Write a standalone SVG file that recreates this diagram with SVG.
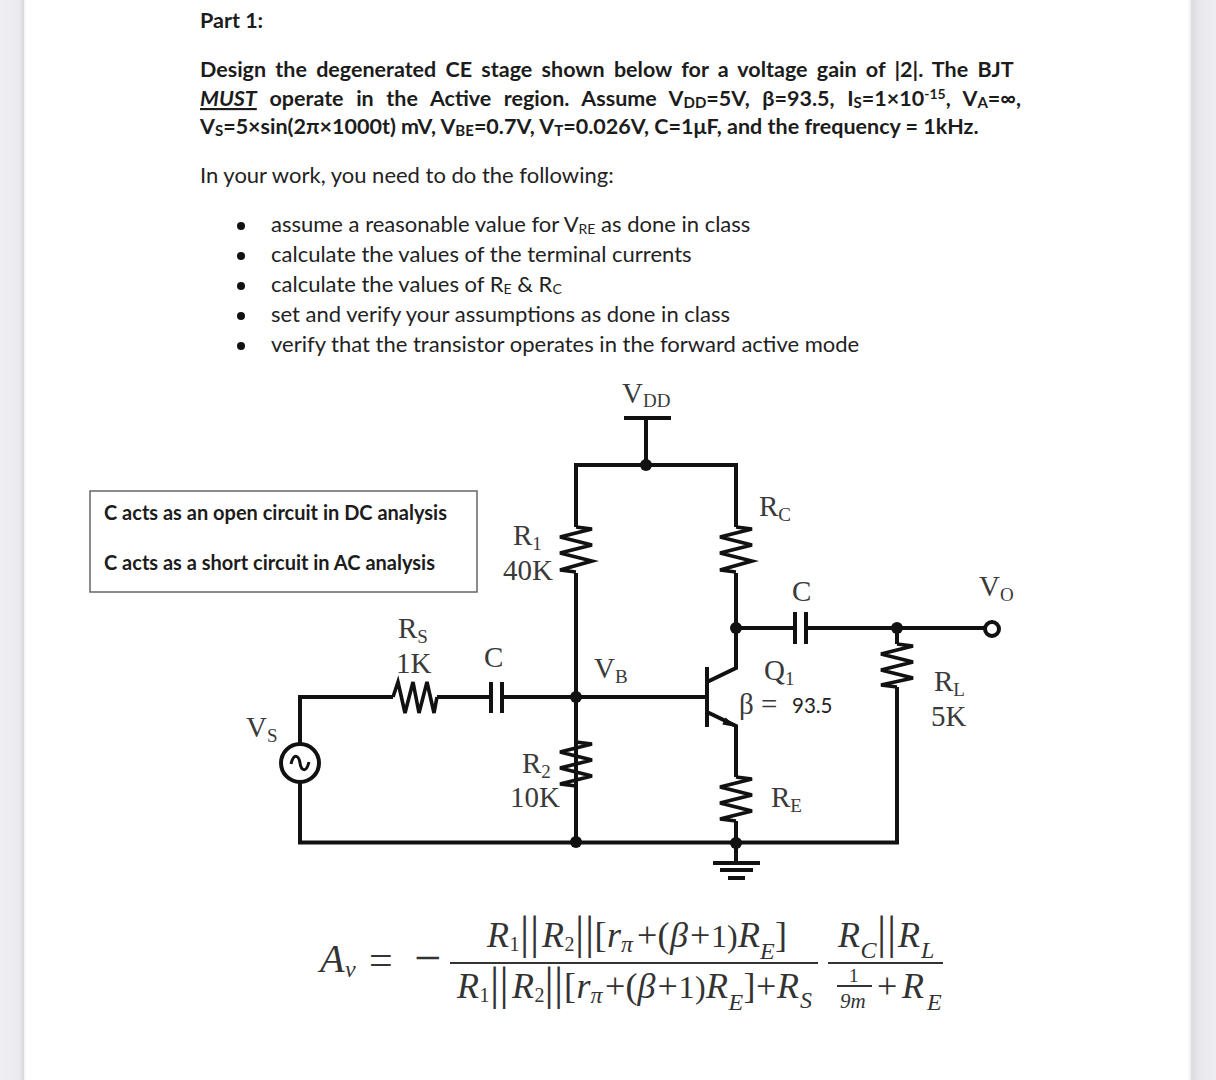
<svg xmlns="http://www.w3.org/2000/svg" width="1216" height="1080" viewBox="0 0 1216 1080">
<defs>
<linearGradient id="edgeL" x1="0" x2="1" y1="0" y2="0"><stop offset="0" stop-color="#eeeef3"/><stop offset="0.75" stop-color="#eaeaef"/><stop offset="0.9" stop-color="#d8d8db"/><stop offset="0.94" stop-color="#f4f4f4"/><stop offset="1" stop-color="#fbfbfb"/></linearGradient>
<linearGradient id="edgeR" x1="0" x2="1" y1="0" y2="0"><stop offset="0" stop-color="#fafafa"/><stop offset="0.08" stop-color="#f4f4f4"/><stop offset="0.12" stop-color="#dcdcdf"/><stop offset="0.4" stop-color="#e8e8ec"/><stop offset="1" stop-color="#eeeef3"/></linearGradient>
<style>
.t{font-family:"Lato","Noto Sans",sans-serif;font-size:22px;fill:#222}
.b{font-weight:700;font-size:21.5px;fill:#1c1c1c}
.n{font-family:"Lato","Noto Sans",sans-serif;font-weight:700;font-size:20px;fill:#1c1c1c}
.s{font-family:"Liberation Serif","Times New Roman",serif;fill:#3a3a3a;font-size:29px}
.sub{font-size:19px}
.m{font-family:"Liberation Serif","Times New Roman",serif;fill:#333;font-size:36px}
.i{font-style:italic}
.ms{font-size:24px}
.mn{font-size:20px}
.dg{font-size:32px}
.p{font-size:46px}
.w{fill:none;stroke:#111;stroke-width:4;stroke-linejoin:miter}
.r{fill:none;stroke:#111;stroke-width:3.6;stroke-linejoin:miter}
.d{fill:#111}
</style>
</defs>
<rect width="1216" height="1080" fill="#ffffff"/>
<rect x="0" width="26" height="1080" fill="url(#edgeL)"/>
<rect x="1188" width="28" height="1080" fill="url(#edgeR)"/>
<g id="text-block">
<text class="t b" x="200" y="28">Part 1:</text>
<text class="t b" x="200" y="77" word-spacing="4">Design the degenerated CE stage shown below for a voltage gain of |2|. The BJT</text>
<text class="t b" x="200" y="106" word-spacing="7.4"><tspan font-style="italic" text-decoration="underline">MUST</tspan> operate in the Active region. Assume V<tspan font-size="15" dy="2">DD</tspan><tspan dy="-2">=5V, β=93.5, I</tspan><tspan font-size="15" dy="2">S</tspan><tspan dy="-2">=1×10</tspan><tspan font-size="14" dy="-7">-15</tspan><tspan dy="7">, V</tspan><tspan font-size="15" dy="2">A</tspan><tspan dy="-2">=∞,</tspan></text>
<text class="t b" x="200" y="134">V<tspan font-size="15" dy="2">S</tspan><tspan dy="-2">=5×sin(2π×1000t) mV, V</tspan><tspan font-size="15" dy="2">BE</tspan><tspan dy="-2">=0.7V, V</tspan><tspan font-size="15" dy="2">T</tspan><tspan dy="-2">=0.026V, C=1μF, and the frequency = 1kHz.</tspan></text>
<text class="t" x="200" y="183">In your work, you need to do the following:</text>
<circle class="d" cx="241" cy="226" r="4"/><text class="t" x="271" y="232">assume a reasonable value for V<tspan font-size="14" dy="2">RE</tspan><tspan dy="-2"> as done in class</tspan></text>
<circle class="d" cx="241" cy="256" r="4"/><text class="t" x="271" y="262">calculate the values of the terminal currents</text>
<circle class="d" cx="241" cy="286" r="4"/><text class="t" x="271" y="292">calculate the values of R<tspan font-size="14" dy="2">E</tspan><tspan dy="-2"> &amp; R</tspan><tspan font-size="14" dy="2">C</tspan></text>
<circle class="d" cx="241" cy="316" r="4"/><text class="t" x="271" y="322">set and verify your assumptions as done in class</text>
<circle class="d" cx="241" cy="346" r="4"/><text class="t" x="271" y="352">verify that the transistor operates in the forward active mode</text>
</g>
<g id="note">
<rect x="90" y="491" width="387" height="101" fill="#fff" stroke="#666" stroke-width="1.5"/>
<text class="n" x="104" y="520">C acts as an open circuit in DC analysis</text>
<text class="n" x="104" y="570">C acts as a short circuit in AC analysis</text>
</g>
<g id="connectors">
<path class="w" d="M624 418H671M646 418V465M576 527V465H736V527"/>
<path class="w" d="M576 573V842M736 573V668L707 682M707 667V727M707 712L736 726V777M736 821V863"/>
<path class="w" d="M300 744V697H393M437 697H491M502 697H707M300 782V842.5H897V687M736 628H795M806 628H985M897 628V644"/>
<path class="w" d="M713 863H760M720 870H753M728 878H745"/>
<path class="w" d="M491 682V713M502 682V713M795 612V644M806 612V644"/>
<path class="d" d="M736 727L722.3 724.6L725.7 717.4Z"/>
</g>
<g id="R1"><path class="r" d="M576 527L592 529L560 537L592 545L560 553L592 561L560 570L576 572"/><text class="s" x="513" y="545">R<tspan class="sub" dy="5">1</tspan></text><text class="s" x="503" y="580">40K</text></g>
<g id="RC"><path class="r" d="M736 527L752 529L720 537L752 545L720 553L752 561L720 570L736 572"/><text class="s" x="759" y="516">R<tspan class="sub" dy="5">C</tspan></text></g>
<g id="RS"><path class="r" d="M393 697L398 682L405 713L413 682L419 713L427 682L434 713L437 697"/><text class="s" x="398" y="638">R<tspan class="sub" dy="5">S</tspan></text><text class="s" x="396" y="673">1K</text></g>
<g id="C1"><text class="s" x="484" y="667">C</text></g>
<g id="C2"><text class="s" x="792" y="601">C</text></g>
<g id="R2"><path class="r" d="M576 742L592 744L560 752L592 760L560 768L592 776L560 784L576 786"/><text class="s" x="522" y="773">R<tspan class="sub" dy="5">2</tspan></text><text class="s" x="510" y="807">10K</text></g>
<g id="RE"><path class="r" d="M736 777L752 779L720 787L752 795L720 803L752 811L720 819L736 821"/><text class="s" x="771" y="807">R<tspan class="sub" dy="5">E</tspan></text></g>
<g id="RL"><path class="r" d="M897 644L913 646L881 654L913 662L881 670L913 678L881 685L897 687"/><text class="s" x="934" y="691">R<tspan class="sub" dy="5">L</tspan></text><text class="s" x="931" y="726">5K</text></g>
<g id="VS"><circle cx="300" cy="763" r="19" fill="#fff" stroke="#111" stroke-width="4"/><path d="M291 764C294 752 299 756 300 763C301 770 306 774 309 762" fill="none" stroke="#111" stroke-width="3"/><text class="s" x="246" y="737">V<tspan class="sub" dy="5">S</tspan></text></g>
<g id="VDD"><text class="s" x="622" y="403">V<tspan class="sub" dy="4">DD</tspan></text></g>
<g id="VB"><text class="s" x="594" y="678">V<tspan class="sub" dy="5">B</tspan></text></g>
<g id="Q1"><text class="s" x="764" y="680">Q<tspan class="sub" dy="5">1</tspan></text><text class="s" x="739" y="714">β =</text><text class="t" x="792" y="713" style="font-size:20.5px">93.5</text></g>
<g id="VO"><circle cx="992" cy="629" r="7" fill="#fff" stroke="#111" stroke-width="4"/><text class="s" x="979" y="596">V<tspan class="sub" dy="5">O</tspan></text></g>
<g id="junctions">
<circle class="d" cx="646" cy="465" r="6"/><circle class="d" cx="576" cy="697" r="6"/><circle class="d" cx="576" cy="842" r="6"/><circle class="d" cx="736" cy="628" r="6"/><circle class="d" cx="897" cy="628" r="6"/><circle class="d" cx="736" cy="843" r="6"/>
</g>
<g id="formula">
<text class="m i" x="320" y="972" style="font-size:40px">A<tspan class="ms" x="345" y="977">v</tspan></text>
<text class="m" x="369" y="974" style="font-size:42px">=</text>
<text class="m" x="414" y="974" style="font-size:48px">−</text>
<path d="M450 963H818M828 963H943M837 986H872" stroke="#333" stroke-width="2" fill="none"/>
<text class="m"><tspan class="i" x="487" y="947">R</tspan><tspan class="mn" x="509.500" y="951">1</tspan><tspan class="p" x="520" y="948">|</tspan><tspan class="p" x="530" y="948">|</tspan><tspan class="i" x="542" y="947">R</tspan><tspan class="mn" x="564.500" y="951">2</tspan><tspan class="p" x="575" y="948">|</tspan><tspan class="p" x="585" y="948">|</tspan><tspan x="594.500" y="947">[</tspan><tspan class="i" x="607" y="947">r</tspan><tspan class="ms i" x="621" y="952">π</tspan><tspan x="637" y="947">+</tspan><tspan x="657.500" y="947">(</tspan><tspan class="i" x="670" y="947">β</tspan><tspan x="690" y="947">+</tspan><tspan class="dg" x="711" y="947">1</tspan><tspan class="dg" x="727" y="947">)</tspan><tspan class="i" x="738" y="947">R</tspan><tspan class="ms i" x="760" y="959">E</tspan><tspan x="775" y="947">]</tspan></text>
<text class="m"><tspan class="i" x="457" y="998">R</tspan><tspan class="mn" x="479.500" y="1002">1</tspan><tspan class="p" x="490" y="999">|</tspan><tspan class="p" x="499.500" y="999">|</tspan><tspan class="i" x="512" y="998">R</tspan><tspan class="mn" x="534.500" y="1002">2</tspan><tspan class="p" x="544.500" y="999">|</tspan><tspan class="p" x="554" y="999">|</tspan><tspan x="564" y="998">[</tspan><tspan class="i" x="576.500" y="998">r</tspan><tspan class="ms i" x="590.500" y="1003">π</tspan><tspan x="605" y="998">+</tspan><tspan x="625.500" y="998">(</tspan><tspan class="i" x="637.500" y="998">β</tspan><tspan x="657.500" y="998">+</tspan><tspan class="dg" x="678.500" y="998">1</tspan><tspan class="dg" x="695" y="998">)</tspan><tspan class="i" x="706" y="998">R</tspan><tspan class="ms i" x="728.500" y="1010">E</tspan><tspan x="743.500" y="998">]</tspan><tspan x="756" y="998">+</tspan><tspan class="i" x="777" y="998">R</tspan><tspan class="ms i" x="800" y="1008">S</tspan></text>
<text class="m"><tspan class="i" x="838" y="947">R</tspan><tspan class="ms i" x="860.500" y="958">C</tspan><tspan class="p" x="877" y="948">|</tspan><tspan class="p" x="887" y="948">|</tspan><tspan class="i" x="898" y="947">R</tspan><tspan class="ms i" x="921" y="958">L</tspan></text>
<text class="m" x="849" y="982" style="font-size:19px">1</text>
<text class="m i" x="840" y="1008" style="font-size:21px">9m</text>
<text class="m"><tspan x="877" y="998">+</tspan><tspan class="i" x="902" y="998">R</tspan><tspan class="ms i" x="927" y="1010">E</tspan></text>
</g>
</svg>
